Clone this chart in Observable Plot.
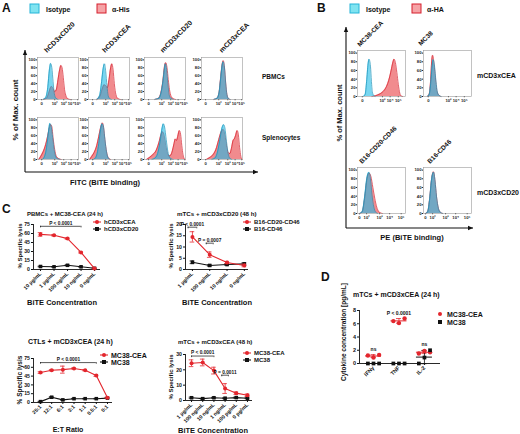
<!DOCTYPE html>
<html>
<head>
<meta charset="utf-8">
<script src="https://cdn.jsdelivr.net/npm/d3@7"></script>
<script src="https://cdn.jsdelivr.net/npm/@observablehq/plot@0.6"></script>
<style>
  body { margin: 0; background: #fff; }
  #fig { position: relative; width: 520px; height: 434px; overflow: hidden; background: #fff; }
</style>
</head>
<body>
<div id="fig"></div>
<script>
const FONT = '"Liberation Sans", Arial, Helvetica, sans-serif';
const RED = "#e3262d";
const BLACK = "#111111";

// ---------- A: anti-His staining of BiTE-coated cells (FITC) ----------
const aColumns = ["hCD3xCD20", "hCD3xCEA", "mCD3xCD20", "mCD3xCEA"];
const aRows = ["PBMCs", "Splenocytes"];
const aTicks = [10, 42, 64, 82, 98];
const aTickLabels = ["0", "10²", "10³", "10⁴", "10⁵"];
// curves: [display position, % of max count]
const isoPbmc = [
  [[14,0],[20,5],[25,30],[29,75],[32,91],[35,80],[38,45],[41,15],[45,3],[50,0]],
  [[20,0],[27,10],[32,45],[36,80],[39,90],[42,70],[45,35],[48,10],[52,2],[56,0]],
  [[25,0],[35,3],[40,15],[45,45],[49,80],[51,90],[54,75],[57,40],[60,12],[64,3],[70,0]],
  [[30,0],[38,3],[43,18],[47,55],[51,90],[53,95],[56,80],[59,40],[62,12],[66,2],[70,0]]
];
const hisPbmc = [
  [[14,0],[22,3],[27,15],[31,28],[34,33],[38,28],[42,20],[46,25],[50,50],[54,75],[57,86],[60,80],[63,55],[66,25],[70,8],[75,1],[80,0]],
  [[20,0],[28,8],[33,25],[38,37],[42,35],[46,30],[50,50],[54,80],[57,90],[60,75],[63,40],[67,12],[72,2],[78,0]],
  [[25,0],[35,4],[40,17],[45,48],[49,85],[52,93],[55,80],[58,50],[61,25],[65,8],[70,2],[76,0]],
  [[30,0],[38,3],[43,18],[47,58],[51,92],[53,98],[56,82],[59,42],[62,13],[66,2],[70,0]]
];
const isoSpleen = [
  [[12,0],[16,5],[20,18],[24,45],[28,80],[30,91],[33,85],[37,55],[41,22],[45,6],[50,1],[55,0]],
  [[12,0],[17,4],[21,15],[25,40],[29,72],[33,90],[36,85],[39,60],[43,25],[47,6],[52,0]],
  [[18,0],[25,3],[32,15],[38,45],[43,80],[46,90],[49,82],[53,50],[57,20],[61,6],[66,1],[70,0]],
  [[25,0],[32,3],[38,15],[44,45],[50,80],[54,88],[57,80],[61,45],[65,15],[69,3],[74,0]]
];
const hisSpleen = [
  [[3,0],[8,8],[14,20],[20,38],[25,60],[29,80],[32,88],[35,83],[38,55],[42,25],[46,8],[52,2],[58,0]],
  [[3,0],[8,8],[14,18],[20,35],[25,58],[30,82],[34,92],[37,80],[40,50],[44,20],[48,5],[54,0]],
  [[5,0],[12,5],[20,12],[28,22],[35,42],[40,62],[44,70],[48,60],[52,35],[56,15],[60,9],[64,11],[68,22],[72,40],[75,52],[78,48],[81,58],[85,73],[88,64],[91,35],[94,12],[97,2],[99,0]],
  [[12,0],[20,5],[28,12],[35,25],[42,50],[48,70],[53,76],[57,62],[61,35],[65,18],[69,15],[73,28],[77,48],[80,52],[83,60],[87,73],[90,62],[93,30],[96,8],[99,0]]
];

// ---------- B: anti-HA staining of target cells (PE) ----------
const bTargetsCEA = ["MC38-CEA", "MC38"];
const bTargetsCD20 = ["B16-CD20-CD46", "B16-CD46"];
const bRows = ["mCD3xCEA", "mCD3xCD20"];
const bTicksTop = [10, 52, 68, 85];
const bTickLabelsTop = ["0", "10³", "10⁴", "10⁵"];
const bTicksBottom = [4, 19, 46, 67, 91];
const bTickLabelsBottom = ["0", "10²", "10³", "10⁴", "10⁵"];
const isoCEA = [
  [[12,0],[16,5],[19,35],[22,75],[24,86],[27,70],[29,35],[31,10],[34,2],[37,0]],
  [[8,0],[12,5],[15,30],[18,70],[20,85],[23,70],[26,35],[29,10],[33,2],[37,0]]
];
const haCEA = [
  [[30,0],[38,2],[45,5],[52,10],[58,18],[63,30],[67,45],[71,65],[74,80],[76,86],[79,78],[82,55],[85,28],[88,8],[91,1],[94,0]],
  [[8,0],[12,6],[15,40],[17,80],[19,95],[22,75],[25,40],[28,12],[32,3],[36,0]]
];
const isoCD20 = [
  [[5,0],[10,5],[15,40],[20,85],[24,95],[27,80],[30,45],[34,15],[38,3],[42,0]],
  [[5,0],[9,5],[13,35],[17,80],[21,95],[24,75],[27,40],[31,12],[35,3],[40,0]]
];
const haCD20 = [
  [[5,0],[10,4],[15,35],[20,80],[24,93],[28,85],[32,60],[36,35],[40,15],[44,5],[48,1],[52,0]],
  [[5,0],[9,5],[13,35],[17,80],[21,96],[24,75],[27,40],[31,12],[35,3],[40,0]]
];

// ---------- C: specific lysis ----------
const c1Conc = ["10 µg/mL", "1 µg/mL", "100 ng/mL", "10 ng/mL", "0 ng/mL"];
const c1CEA = [58.5, 57, 51.5, 28.5, 1.5];
const c1CEAErr = [3, 1, 1, 1, 1];
const c1CD20 = [5, 4.5, 7, 4.5, 2];
const c1CD20Err = [0.6, 0.5, 1, 0.6, 0.5];
const c1Brackets = [{a: 0, b: 3, y: 72, label: "P < 0.0001"}];

const c2Conc = ["1 µg/mL", "100 ng/mL", "10 ng/mL", "0 ng/mL"];
const c2CD20CD46 = [14.5, 6.6, 3.1, 1.8];
const c2CD20CD46Err = [2.3, 1.2, 0.5, 0.6];
const c2CD46 = [3.2, 1.8, 2.2, 2.5];
const c2CD46Err = [0.6, 0.3, 0.3, 0.5];
const c2Brackets = [
  {a: -0.25, b: 0.25, y: 18.8, label: "P < 0.0001"},
  {a: 0.8, b: 1.2, y: 11.7, label: "P = 0.0007"}
];

const c3Ratio = ["25:1", "12:1", "6:1", "3:1", "1:1", "0.5:1", "0:1"];
const c3CEA = [51, 55, 56, 58, 55, 46, 8];
const c3CEAErr = [1.5, 1, 6, 1, 1, 1.5, 1];
const c3MC38 = [1.5, 9, 4.5, 6.5, 6.5, 6.5, 7.5];
const c3MC38Err = [0.5, 1, 0.5, 0.5, 0.5, 0.5, 0.5];
const c3Brackets = [{a: 0, b: 5, y: 68, label: "P < 0.0001"}];

const c4Conc = ["1 µg/mL", "100 ng/mL", "10 ng/mL", "1 ng/mL", "100 pg/mL", "0 pg/mL"];
const c4CEA = [24.3, 24.8, 19.5, 7.8, 4.8, 3.4];
const c4CEAErr = [2.2, 2.2, 2.2, 3.2, 0.8, 0.8];
const c4MC38 = [1.8, 1.2, 1.8, 1.5, 1.9, 1.5];
const c4MC38Err = [0.4, 0.3, 0.3, 0.3, 0.4, 0.3];
const c4Brackets = [
  {a: 0, b: 2, y: 29, label: "P < 0.0001"},
  {a: 2.7, b: 3.3, y: 16.5, label: "P = 0.0011"}
];

// ---------- D: cytokine release ----------
const cytokines = ["IFNγ", "TNF", "IL-2"];
const dCEA = [[1.2, 0.9, 1.3], [6.4, 6.1, 6.8], [1.5, 1.9, 1.7]];
const dMC38 = [[0, 0, 0], [0, 0, 0], [0, 0.9, 2.0]];
const dNotes = [
  {i: 0, y: 2.1, label: "ns"},
  {i: 1, y: 7.5, label: "P < 0.0001"},
  {i: 2, y: 2.9, label: "ns"}
];

// ---------------------------------------------------------------
const fig = document.getElementById("fig");
function place(node, left, top) {
  node.style.position = "absolute";
  node.style.left = left + "px";
  node.style.top = top + "px";
  fig.appendChild(node);
}

const ISO_FILL = "#1ebbe6", ISO_STROKE = "#1790b8";
const ANTI_FILL = "#ee6e72", ANTI_STROKE = "#d61f2c";

function histogram(left, top, w, h, ticks, tickLabels, iso, anti) {
  const ml = 10, mr = 1, mt = 1, mb = 9;
  const xy = {x: d => d[0], y: d => d[1], curve: "monotone-x"};
  const chart = Plot.plot({
    width: w + ml + mr, height: h + mt + mb,
    marginLeft: ml, marginRight: mr, marginTop: mt, marginBottom: mb,
    style: {fontFamily: FONT, fontSize: "4.2px", fontWeight: "bold", background: "transparent", overflow: "visible", color: "#222"},
    x: {domain: [0, 100], ticks, tickFormat: d => tickLabels[ticks.indexOf(d)], tickSize: 1.2, tickPadding: 1, label: null},
    y: {domain: [0, 106], ticks: [0, 20, 40, 60, 80, 100], tickSize: 1.2, tickPadding: 0.8, label: null},
    marks: [
      Plot.areaY(anti, {...xy, fill: ANTI_FILL, fillOpacity: 0.8}),
      Plot.line(anti, {...xy, stroke: ANTI_STROKE, strokeWidth: 0.7}),
      Plot.areaY(iso, {...xy, fill: ISO_FILL, fillOpacity: 0.6}),
      Plot.line(iso, {...xy, stroke: ISO_STROKE, strokeWidth: 0.7}),
      Plot.frame({stroke: "#999999", strokeWidth: 0.6})
    ]
  });
  place(chart, left - ml, top - mt);
}

// panel A grid
const aLefts = [37, 88, 144, 201], aTops = [57, 117];
aColumns.forEach((_, c) => {
  histogram(aLefts[c], aTops[0], 41, 42, aTicks, aTickLabels, isoPbmc[c], hisPbmc[c]);
  histogram(aLefts[c], aTops[1], 41, 42, aTicks, aTickLabels, isoSpleen[c], hisSpleen[c]);
});
// panel B grid
const bLefts = [357, 423], bTops = [50, 167];
bTargetsCEA.forEach((_, c) => histogram(bLefts[c], bTops[0], 48, 46, bTicksTop, bTickLabelsTop, isoCEA[c], haCEA[c]));
bTargetsCD20.forEach((_, c) => histogram(bLefts[c], bTops[1], 48, 46, bTicksBottom, bTickLabelsBottom, isoCD20[c], haCD20[c]));

// line charts with error bars and significance brackets
function lysisChart(fr, xDomain, yMax, yTicks, cats, groups, brackets) {
  const [x0, x1, y0, y1] = fr;
  const ml = 20, mr = 4, mt = 8, mb = 34;
  const pxX = (x1 - x0) / (xDomain[1] - xDomain[0]);
  const pxY = (y1 - y0) / yMax;
  const cap = 2.3 / pxX, tick = 1.6 / pxY;
  const marks = [
    Plot.ruleY([0], {stroke: BLACK, strokeWidth: 0.9}),
    Plot.ruleX([xDomain[0]], {stroke: BLACK, strokeWidth: 0.9})
  ];
  for (const g of groups) {
    const rows = g.values.map((v, i) => ({i, v, e: g.errors[i]}));
    marks.push(
      Plot.ruleX(rows, {x: "i", y1: d => d.v - d.e, y2: d => d.v + d.e, stroke: g.color, strokeWidth: 0.8}),
      Plot.ruleY(rows, {y: d => d.v + d.e, x1: d => d.i - cap, x2: d => d.i + cap, stroke: g.color, strokeWidth: 0.8}),
      Plot.ruleY(rows, {y: d => d.v - d.e, x1: d => d.i - cap, x2: d => d.i + cap, stroke: g.color, strokeWidth: 0.8}),
      Plot.line(rows, {x: "i", y: "v", stroke: g.color, strokeWidth: 1.1}),
      Plot.dot(rows, {x: "i", y: "v", r: 2, fill: g.color, symbol: g.symbol})
    );
  }
  marks.push(
    Plot.ruleY(brackets, {y: "y", x1: "a", x2: "b", stroke: BLACK, strokeWidth: 0.7}),
    Plot.ruleX(brackets.flatMap(b => [{x: b.a, y: b.y}, {x: b.b, y: b.y}]), {x: "x", y1: d => d.y - tick, y2: "y", stroke: BLACK, strokeWidth: 0.7}),
    Plot.text(brackets, {x: d => (d.a + d.b) / 2, y: "y", text: "label", dy: -3.2, fontSize: 4.8})
  );
  const chart = Plot.plot({
    width: x1 - x0 + ml + mr, height: y1 - y0 + mt + mb,
    marginLeft: ml, marginRight: mr, marginTop: mt, marginBottom: mb,
    style: {fontFamily: FONT, fontSize: "5.2px", fontWeight: "bold", background: "transparent", overflow: "visible", color: BLACK},
    x: {domain: xDomain, ticks: d3.range(cats.length), tickFormat: i => cats[i], tickRotate: -45, tickSize: 2, tickPadding: 1.5, label: null},
    y: {domain: [0, yMax], ticks: yTicks, tickSize: 2, tickPadding: 1.5, label: null},
    marks
  });
  place(chart, x0 - ml, y0 - mt);
}

lysisChart([33, 100, 224, 269], [-0.52, 4.44], 75, [0, 15, 30, 45, 60, 75], c1Conc, [
  {values: c1CD20, errors: c1CD20Err, color: BLACK, symbol: "square"},
  {values: c1CEA, errors: c1CEAErr, color: RED, symbol: "circle"}
], c1Brackets);
lysisChart([185, 248, 224, 269], [-0.4, 3.24], 20, [0, 5, 10, 15, 20], c2Conc, [
  {values: c2CD46, errors: c2CD46Err, color: BLACK, symbol: "square"},
  {values: c2CD20CD46, errors: c2CD20CD46Err, color: RED, symbol: "circle"}
], c2Brackets);
lysisChart([33, 112, 358, 402], [-0.63, 6.45], 75, [0, 15, 30, 45, 60, 75], c3Ratio, [
  {values: c3MC38, errors: c3MC38Err, color: BLACK, symbol: "square"},
  {values: c3CEA, errors: c3CEAErr, color: RED, symbol: "circle"}
], c3Brackets);
lysisChart([185, 252, 354, 400], [-0.54, 5.45], 30, [0, 10, 20, 30], c4Conc, [
  {values: c4MC38, errors: c4MC38Err, color: BLACK, symbol: "square"},
  {values: c4CEA, errors: c4CEAErr, color: RED, symbol: "circle"}
], c4Brackets);

// panel D scatter with mean ± SD
(function () {
  const [x0, x1, y0, y1] = [359, 440, 310, 363];
  const xDomain = [-0.55, 2.63];
  const ml = 20, mr = 4, mt = 8, mb = 30;
  const jitter = [-0.22, 0, 0.22];
  const pts = (vals) => vals.flatMap((vs, i) => vs.map((v, j) => ({i, x: i + jitter[j], v})));
  const stats = (vals) => vals.map((vs, i) => ({i, m: d3.mean(vs), s: d3.deviation(vs)}));
  const pxX = (x1 - x0) / (xDomain[1] - xDomain[0]);
  const half = 8 / pxX, cap = 2.5 / pxX;
  const summary = (vals, color) => {
    const st = stats(vals);
    return [
      Plot.ruleX(st, {x: "i", y1: d => d.m - d.s, y2: d => d.m + d.s, stroke: color, strokeWidth: 0.8}),
      Plot.ruleY(st, {y: d => d.m + d.s, x1: d => d.i - cap, x2: d => d.i + cap, stroke: color, strokeWidth: 0.8}),
      Plot.ruleY(st, {y: d => d.m - d.s, x1: d => d.i - cap, x2: d => d.i + cap, stroke: color, strokeWidth: 0.8}),
      Plot.ruleY(st, {y: "m", x1: d => d.i - half, x2: d => d.i + half, stroke: color, strokeWidth: 1})
    ];
  };
  const chart = Plot.plot({
    width: x1 - x0 + ml + mr, height: y1 - y0 + mt + mb,
    marginLeft: ml, marginRight: mr, marginTop: mt, marginBottom: mb,
    style: {fontFamily: FONT, fontSize: "5.5px", fontWeight: "bold", background: "transparent", overflow: "visible", color: BLACK},
    x: {domain: xDomain, ticks: d3.range(cytokines.length), tickFormat: i => cytokines[i], tickRotate: -45, tickSize: 2, tickPadding: 1.5, label: null},
    y: {domain: [0, 8], ticks: [0, 2, 4, 6, 8], tickSize: 2, tickPadding: 1.5, label: null},
    marks: [
      Plot.ruleY([0], {stroke: BLACK, strokeWidth: 0.9}),
      Plot.ruleX([xDomain[0]], {stroke: BLACK, strokeWidth: 0.9}),
      ...summary(dCEA, RED),
      ...summary(dMC38, BLACK),
      Plot.dot(pts(dCEA), {x: "x", y: "v", r: 2.2, fill: RED, symbol: "circle"}),
      Plot.dot(pts(dMC38), {x: "x", y: "v", r: 2.1, fill: BLACK, symbol: "square"}),
      Plot.text(dNotes, {x: "i", y: "y", text: "label", fontSize: 5})
    ]
  });
  place(chart, x0 - ml, y0 - mt);
})();

// ---------- labels, legends and axis arrows ----------
const ov = d3.select(fig).append("svg")
  .attr("width", 520).attr("height", 434)
  .style("position", "absolute").style("left", "0px").style("top", "0px")
  .style("pointer-events", "none").style("font-family", FONT);

function txt(s, x, y, {size = 7, weight = "bold", anchor = "start", rotate = 0, fill = "#111"} = {}) {
  ov.append("text")
    .attr("transform", `translate(${x},${y}) rotate(${rotate})`)
    .attr("font-size", size).attr("font-weight", weight)
    .attr("text-anchor", anchor).attr("fill", fill).text(s);
}
function arrow(x1, y1, x2, y2) {
  ov.append("line").attr("x1", x1).attr("y1", y1).attr("x2", x2).attr("y2", y2)
    .attr("stroke", "#111").attr("stroke-width", 1.1);
  const a = Math.atan2(y2 - y1, x2 - x1), L = 5, W = 2.2;
  const bx = x2 - L * Math.cos(a), by = y2 - L * Math.sin(a);
  const px = -Math.sin(a) * W, py = Math.cos(a) * W;
  ov.append("polygon").attr("points", `${x2},${y2} ${bx + px},${by + py} ${bx - px},${by - py}`).attr("fill", "#111");
}
function swatch(x, y, fill, stroke) {
  ov.append("rect").attr("x", x).attr("y", y).attr("width", 9).attr("height", 9)
    .attr("fill", fill).attr("stroke", stroke).attr("stroke-width", 1);
}
function legendEntry(x, y, color, symbol, label, size, withLine = true) {
  if (withLine) ov.append("line").attr("x1", x - 4).attr("x2", x + 4).attr("y1", y).attr("y2", y)
    .attr("stroke", color).attr("stroke-width", 1.1);
  if (symbol === "circle") ov.append("circle").attr("cx", x).attr("cy", y).attr("r", 2).attr("fill", color);
  else ov.append("rect").attr("x", x - 2).attr("y", y - 2).attr("width", 4).attr("height", 4).attr("fill", color);
  txt(label, x + 7, y + size * 0.36, {size});
}

// panel letters
txt("A", 2, 12, {size: 12});
txt("B", 317, 12, {size: 12});
txt("C", 2, 213, {size: 12});
txt("D", 321, 281, {size: 12});

// A
swatch(30, 4, "#7fe3f0", "#25b4d8"); txt("Isotype", 46, 11.5, {size: 7});
swatch(97, 4, "#f5a3a6", "#d61f2c"); txt("α-His", 112, 11.5, {size: 7});
const aLabelPos = [[47, 53], [105, 53], [163, 53], [222, 53]];
aColumns.forEach((s, c) => txt(s, aLabelPos[c][0], aLabelPos[c][1], {size: 7, rotate: -45}));
txt(aRows[0], 262, 79, {size: 6.5});
txt(aRows[1], 262, 140, {size: 6.5});
arrow(25, 172, 25, 50);
arrow(25, 172, 258, 172);
txt("% of Max. count", 18, 110, {size: 8, rotate: -90, anchor: "middle"});
txt("FITC (BiTE binding)", 105, 185, {size: 7.5, anchor: "middle"});

// B
swatch(350, 4, "#7fe3f0", "#25b4d8"); txt("Isotype", 366, 11.5, {size: 7});
swatch(412, 4, "#f5a3a6", "#d61f2c"); txt("α-HA", 427, 11.5, {size: 7});
txt(bTargetsCEA[0], 360, 47, {size: 6.5, rotate: -45});
txt(bTargetsCEA[1], 421, 46, {size: 6.5, rotate: -45});
txt(bTargetsCD20[0], 362, 164, {size: 6.5, rotate: -45});
txt(bTargetsCD20[1], 430, 164, {size: 6.5, rotate: -45});
txt(bRows[0], 477, 78, {size: 7});
txt(bRows[1], 477, 195, {size: 7});
arrow(346, 228, 346, 27);
arrow(346, 228, 473, 228);
txt("% of Max. count", 342, 113, {size: 7.5, rotate: -90, anchor: "middle"});
txt("PE (BiTE binding)", 412, 240, {size: 7.5, anchor: "middle"});

// C
txt("PBMCs + MC38-CEA (24 h)", 27, 216, {size: 6});
txt("mTCs + mCD3xCD20 (48 h)", 177, 216, {size: 6.2});
txt("CTLs + mCD3xCEA (24 h)", 28, 344, {size: 7});
txt("mTCs + mCD3xCEA (48 h)", 178, 344, {size: 6});
txt("BiTE Concentration", 62, 305, {size: 7.5, anchor: "middle"});
txt("BiTE Concentration", 217, 305, {size: 7.5, anchor: "middle"});
txt("E:T Ratio", 68, 432, {size: 7, anchor: "middle"});
txt("BiTE Concentration", 213, 433, {size: 7.5, anchor: "middle"});
txt("% Specific lysis", 22, 246, {size: 6, rotate: -90, anchor: "middle"});
txt("% Specific lysis", 173, 246, {size: 6, rotate: -90, anchor: "middle"});
txt("% Specific lysis", 22, 380, {size: 6.5, rotate: -90, anchor: "middle"});
txt("% Specific lysis", 173, 377, {size: 6, rotate: -90, anchor: "middle"});
legendEntry(97, 222, RED, "circle", "hCD3xCEA", 6);
legendEntry(97, 229, BLACK, "square", "hCD3xCD20", 6);
legendEntry(247, 222, RED, "circle", "B16-CD20-CD46", 6);
legendEntry(247, 229, BLACK, "square", "B16-CD46", 6);
legendEntry(104, 355, RED, "circle", "MC38-CEA", 7);
legendEntry(104, 362, BLACK, "square", "MC38", 7);
legendEntry(247, 353, RED, "circle", "MC38-CEA", 6);
legendEntry(247, 360, BLACK, "square", "MC38", 6);

// D
txt("mTCs + mCD3xCEA (24 h)", 353, 297, {size: 7});
txt("Cytokine concentration [pg/mL]", 346, 332, {size: 6.5, rotate: -90, anchor: "middle"});
legendEntry(440, 314, RED, "circle", "MC38-CEA", 7, false);
legendEntry(440, 322, BLACK, "square", "MC38", 7, false);
</script>
</body>
</html>
